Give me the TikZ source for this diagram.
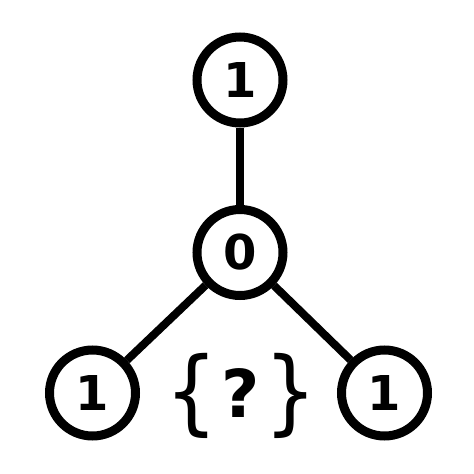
\documentclass[tikz,border=0pt]{standalone}
\usepackage{fontspec}
\setmainfont{DejaVu Sans}
\newcommand{\tallbrace}[1]{\raisebox{-6pt}{\scalebox{1.25}[1.4]{\mdseries #1}}}
\begin{document}
\begin{tikzpicture}[x=1pt,y=-1pt,
  numnode/.style={circle,draw=black,line width=9pt,minimum size=86pt,inner sep=0pt,
    font=\fontsize{48pt}{48pt}\selectfont\bfseries},
  link/.style={line width=8pt},
  bracetext/.style={inner sep=0pt,font=\fontsize{66pt}{66pt}\selectfont\bfseries}]
\useasboundingbox[fill=white] (0,0) rectangle (474,474);
\node[numnode] (top) at (240,80) {1};
\node[numnode] (mid) at (240,252.5) {0};
\node[numnode] (left) at (92.5,393) {1};
\node[numnode] (right) at (384.5,393) {1};
\draw[link] (top) -- (mid);
\draw[link] (mid) -- (left);
\draw[link] (mid) -- (right);
\node[bracetext] (q) at (241,396) {\tallbrace{\{}\hspace{4pt}?\hspace{4pt}\tallbrace{\}}};
\end{tikzpicture}
\end{document}
